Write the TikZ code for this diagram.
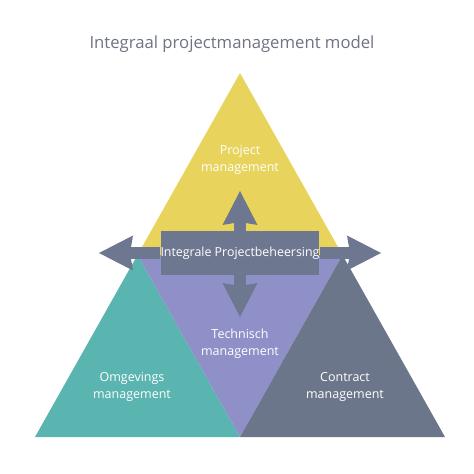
\documentclass[tikz,border=0pt]{standalone}
\usepackage{fontspec}
\setmainfont{Open Sans}
\usepackage{tikz}
\usetikzlibrary{arrows.meta,positioning,calc}
\definecolor{ink}{HTML}{6E7283}
\definecolor{sun}{HTML}{E8D45C}
\definecolor{sea}{HTML}{5AB4B0}
\definecolor{lilac}{HTML}{8F90C8}
\definecolor{slate}{HTML}{6C768B}
\definecolor{hubgray}{HTML}{6E7790}

\begin{document}
\begin{tikzpicture}[x=1pt,y=-1pt,
  zonetext/.style={text=white,align=center,font=\fontsize{12.5}{17}\selectfont},
  hub/.style={fill=hubgray,minimum width=156pt,minimum height=44pt,inner sep=0pt,
    text=white,font=\fontsize{12.4}{15}\selectfont},
  spoke/.style={draw=hubgray,line width=12pt,
    -{Stealth[length=34pt,width=35pt,inset=3pt,line width=0pt]}}
]
  \useasboundingbox (0,0) rectangle (474,474);

  \node[text=ink,font=\fontsize{16.7}{20}\selectfont] (title) at (232,44)
    {Integraal projectmanagement model};

  % corners of the big triangle
  \coordinate (top) at (240,73);
  \coordinate (bl) at (35,437);
  \coordinate (bm) at (240,437);
  \coordinate (br) at (445,437);
  \coordinate (ml) at ($(top)!0.5!(bl)$);
  \coordinate (mr) at ($(top)!0.5!(br)$);

  \fill[sun] (top) -- (ml) -- (mr) -- cycle;
  \fill[sea] (ml) -- (bl) -- (bm) -- cycle;
  \fill[lilac] (ml) -- (mr) -- (bm) -- cycle;
  \fill[slate] (mr) -- (br) -- (bm) -- cycle;

  \node[zonetext] (project) at (240,160) {Project\\management};
  \node[zonetext] (techniek) at (240,344) {Technisch\\management};
  \node[zonetext] (omgeving) at (132,387) {Omgevings\\management};
  \node[zonetext] (contract) at (345,387) {Contract\\management};

  % arrows out of the central box
  \node[hub] (hub) at (240,253) {Integrale Projectbeheersing};
  \coordinate (tipL) at (99,253);
  \coordinate (tipR) at (381,253);
  \coordinate (tipU) at (240,191);
  \coordinate (tipD) at (240,317);
  \draw[spoke] (hub.west) -- (tipL);
  \draw[spoke] (hub.east) -- (tipR);
  \draw[spoke] (hub.north) -- (tipU);
  \draw[spoke] (hub.south) -- (tipD);
\end{tikzpicture}
\end{document}
